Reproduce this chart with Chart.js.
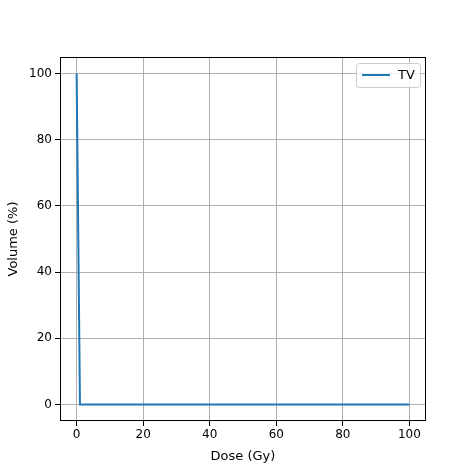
<!DOCTYPE html>
<html>
<head>
<meta charset="utf-8">
<script src="https://cdn.jsdelivr.net/npm/chart.js@4/dist/chart.umd.min.js"></script>
<style>
html,body{margin:0;padding:0;background:#fff;}
#wrap{width:474px;height:474px;}
</style>
</head>
<body>
<div id="wrap"><canvas id="c" width="474" height="474"></canvas></div>
<script>
const doseGy = [0, 1, 100];
const volumePct = [100, 0, 0];
const xTicks = [0, 20, 40, 60, 80, 100];
const yTicks = [0, 20, 40, 60, 80, 100];
const seriesLabel = 'TV';

const FONT = 'DejaVu Sans';
const lineColor = '#1f77b4';

const framePlugin = {
  id: 'frame',
  afterDraw(chart) {
    const {ctx, chartArea: a} = chart;
    ctx.save();
    ctx.strokeStyle = '#000';
    ctx.lineWidth = 1;
    ctx.strokeRect(Math.round(a.left) + 0.5, Math.round(a.top) + 0.5, Math.round(a.right - a.left) - 1, Math.round(a.bottom - a.top) - 1);
    // legend
    const w = 64, h = 24;
    const x = Math.round(a.right) - 6 - w, y = Math.round(a.top) + 6;
    ctx.fillStyle = 'rgba(255,255,255,0.8)';
    ctx.strokeStyle = '#cccccc';
    ctx.lineWidth = 1;
    const r = 3;
    ctx.beginPath();
    ctx.moveTo(x + r + 0.5, y + 0.5);
    ctx.arcTo(x + w + 0.5, y + 0.5, x + w + 0.5, y + h + 0.5, r);
    ctx.arcTo(x + w + 0.5, y + h + 0.5, x + 0.5, y + h + 0.5, r);
    ctx.arcTo(x + 0.5, y + h + 0.5, x + 0.5, y + 0.5, r);
    ctx.arcTo(x + 0.5, y + 0.5, x + w + 0.5, y + 0.5, r);
    ctx.closePath();
    ctx.fill();
    ctx.stroke();
    ctx.strokeStyle = lineColor;
    ctx.lineWidth = 2;
    ctx.beginPath();
    ctx.moveTo(x + 6, y + h / 2);
    ctx.lineTo(x + 34, y + h / 2);
    ctx.stroke();
    ctx.fillStyle = '#000';
    ctx.font = '13px "' + FONT + '"';
    ctx.textBaseline = 'middle';
    ctx.textAlign = 'left';
    ctx.fillText(seriesLabel, x + 42, y + h / 2 + 1);
    ctx.restore();
  }
};

new Chart(document.getElementById('c'), {
  type: 'line',
  data: {
    datasets: [{
      label: seriesLabel,
      data: doseGy.map((d, i) => ({x: d, y: volumePct[i]})),
      borderColor: lineColor,
      borderWidth: 2,
      pointRadius: 0,
      fill: false,
      tension: 0
    }]
  },
  options: {
    responsive: false,
    animation: false,
    devicePixelRatio: 1,
    layout: {padding: {left: 6, top: 57, right: 48, bottom: 0}},
    plugins: {legend: {display: false}, tooltip: {enabled: false}},
    scales: {
      x: {
        type: 'linear',
        min: -5, max: 105,
        afterBuildTicks(s) { s.ticks = xTicks.map(v => ({value: v})); },
        afterFit(s) { s.height = 53; },
        grid: {color: '#b0b0b0', lineWidth: 1, tickColor: '#000', tickLength: 5, drawOnChartArea: true},
        border: {display: false},
        ticks: {color: '#000', font: {family: FONT, size: 12}, padding: 2, maxRotation: 0},
        title: {display: true, text: 'Dose (Gy)', color: '#000', font: {family: FONT, size: 13}, padding: {top: 0, bottom: 10}}
      },
      y: {
        type: 'linear',
        min: -5, max: 105,
        afterBuildTicks(s) { s.ticks = yTicks.map(v => ({value: v})); },
        afterFit(s) { s.width = 54; },
        grid: {color: '#b0b0b0', lineWidth: 1, tickColor: '#000', tickLength: 5, drawOnChartArea: true},
        border: {display: false},
        ticks: {color: '#000', font: {family: FONT, size: 12}, padding: 3},
        title: {display: true, text: 'Volume (%)', color: '#000', font: {family: FONT, size: 13}, padding: {top: 0, bottom: 4}}
      }
    }
  },
  plugins: [framePlugin]
});
</script>
</body>
</html>
